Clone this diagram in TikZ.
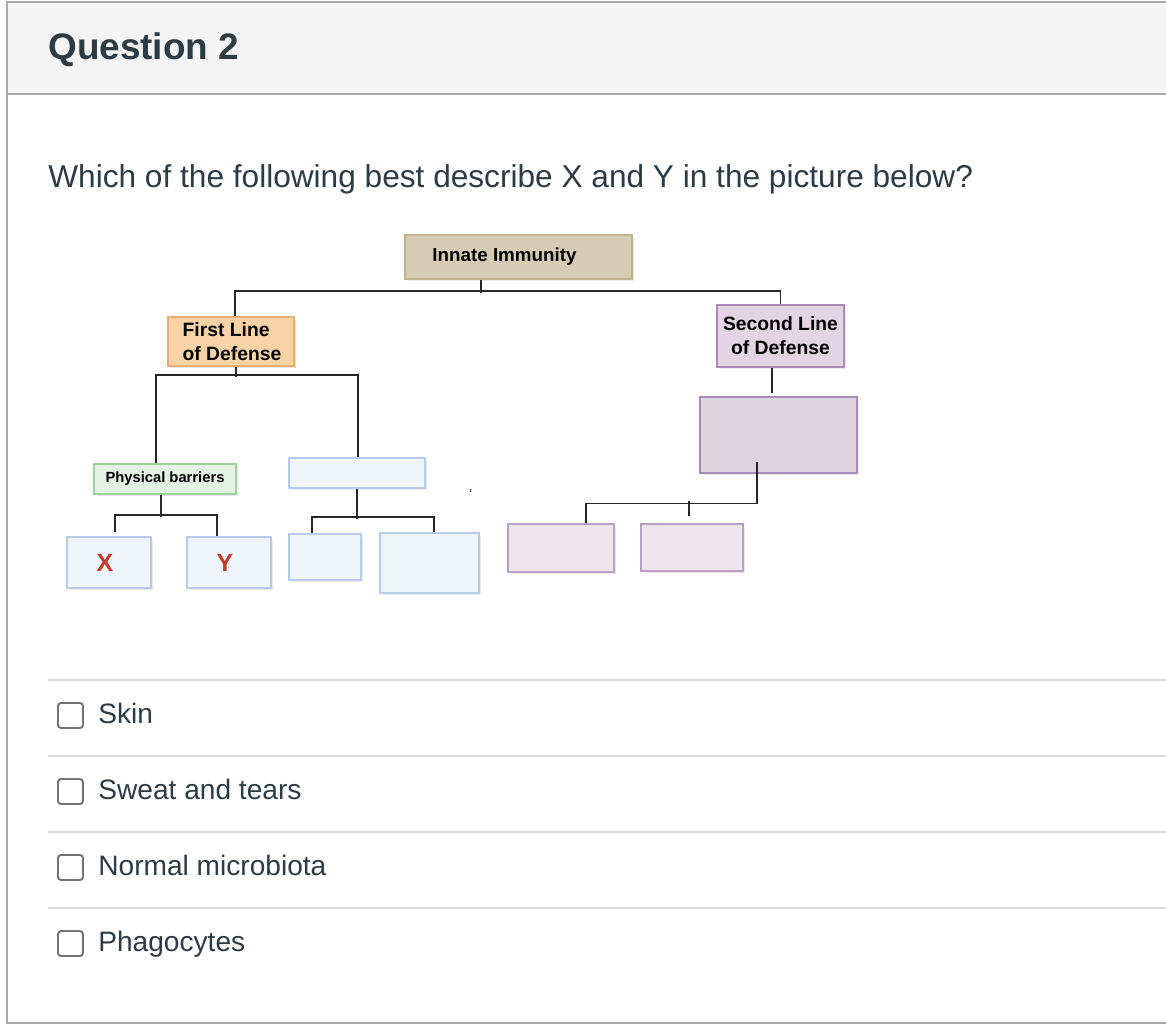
\documentclass[tikz,border=0pt]{standalone}
\usepackage{fontspec}
\setmainfont{Liberation Sans}
\usetikzlibrary{shadows}

\definecolor{ink}{HTML}{2D3B45}
\definecolor{framegray}{HTML}{A9A9A9}
\definecolor{headbg}{HTML}{F4F4F4}
\definecolor{sepgray}{HTML}{DDDDDD}
\definecolor{tanfill}{HTML}{D6CBB3}
\definecolor{tandraw}{HTML}{BFB28C}
\definecolor{orangefill}{HTML}{F9D3A5}
\definecolor{orangedraw}{HTML}{E9AE72}
\definecolor{lilacfill}{HTML}{E2D4E2}
\definecolor{lilacdraw}{HTML}{A88BB8}
\definecolor{greenfill}{HTML}{E3F2E3}
\definecolor{greendraw}{HTML}{9FCF9F}
\definecolor{bluefill}{HTML}{F0F5FB}
\definecolor{bluedraw}{HTML}{B8CBEA}
\definecolor{mauvefill}{HTML}{E0D3DF}
\definecolor{palefill}{HTML}{EDE5EC}
\definecolor{paledraw}{HTML}{B59FC3}
\definecolor{answerred}{HTML}{C23A2B}

\begin{document}
\begin{tikzpicture}
    [
        x=0.02cm, y=-0.02cm,
        box/.style={rectangle, draw, line width=1.1pt, inner sep=0pt, text centered, font=\bfseries,
            drop shadow={opacity=0.18, shadow xshift=0.05cm, shadow yshift=-0.05cm}},
        link/.style={draw=black!85, line width=0.8pt},
        frame/.style={draw=framegray, line width=1.2pt},
        sep/.style={draw=sepgray, line width=1pt},
        check/.style={draw=black!55, line width=1.1pt, rounded corners=1.8pt},
        label/.style={anchor=base west, inner sep=0pt, text=ink}
    ]
    \useasboundingbox (0,0) rectangle (1166,1030);

    % Frame
    \fill[headbg] (7,2) rectangle (1166,94);
    \draw[frame] (1166,2) -- (7,2) -- (7,1023) -- (1166,1023);
    \draw[frame] (7,94) -- (1166,94);

    % Texts
    \node[label, font=\fontsize{21}{25}\selectfont\bfseries] (title) at (48,60) {Question 2};
    \node[label, font=\fontsize{18}{22}\selectfont] (question) at (48,188) {Which of the following best describe X and Y in the picture below?};

    % Nodes
    \node[box, fill=tanfill, draw=tandraw, minimum width=4.54cm, minimum height=0.88cm, font=\fontsize{10.7}{13}\selectfont\bfseries] (innate) at (518.5,257) {\raisebox{-0.06cm}{Innate Immunity}\kern0.56cm};
    \node[box, fill=orangefill, draw=orangedraw, minimum width=2.52cm, minimum height=0.98cm, align=left, font=\fontsize{11}{13.6}\selectfont\bfseries] (first) at (231,341.5) {\kern0.04cm First Line\\\kern0.04cm of Defense};
    \node[box, fill=lilacfill, draw=lilacdraw, minimum width=2.54cm, minimum height=1.24cm, align=center, font=\fontsize{11}{13.6}\selectfont\bfseries] (second) at (780.5,336) {Second Line\\of Defense};
    \node[box, fill=greenfill, draw=greendraw, minimum width=2.84cm, minimum height=0.6cm, font=\fontsize{8.4}{10}\selectfont\bfseries] (physical) at (165,479) {Physical barriers};
    \node[box, fill=bluefill, draw=bluedraw, minimum width=2.72cm, minimum height=0.6cm] (otherbarrier) at (357,473) {};
    \node[box, fill=bluefill, draw=bluedraw, minimum width=1.68cm, minimum height=1.02cm, text=answerred, font=\fontsize{14.2}{16}\selectfont\bfseries] (xbox) at (109,562.5) {\raisebox{-0.08cm}{X}\kern0.16cm};
    \node[box, fill=bluefill, draw=bluedraw, minimum width=1.68cm, minimum height=1.02cm, text=answerred, font=\fontsize{14.2}{16}\selectfont\bfseries] (ybox) at (229,562.5) {\raisebox{-0.08cm}{Y}\kern0.16cm};
    \node[box, fill=bluefill, draw=bluedraw, minimum width=1.44cm, minimum height=0.92cm] (smallblue) at (325,557) {};
    \node[box, fill=bluefill, draw=bluedraw, minimum width=1.98cm, minimum height=1.2cm] (bigblue) at (429.5,563) {};
    \node[box, fill=mauvefill, draw=lilacdraw, line width=1.4pt, minimum width=3.14cm, minimum height=1.52cm] (mauve) at (778.5,435) {};
    \node[box, fill=palefill, draw=paledraw, minimum width=2.12cm, minimum height=0.96cm] (paleleft) at (561,548) {};
    \node[box, fill=palefill, draw=paledraw, minimum width=2.04cm, minimum height=0.94cm] (paleright) at (692,547.5) {};

    % Arrows
    \draw[link] ([xshift=-0.75cm]innate.south) -- ++(0,13);
    \draw[link] ([xshift=0.08cm]first.north) -- ++(0,-25) -| (second.north);
    \draw[link] ([xshift=0.1cm]first.south) -- ++(0,10);
    \draw[link] ([xshift=-0.18cm]physical.north) -- ++(0,-88) -| ([xshift=0.02cm]otherbarrier.north);
    \draw[link] ([xshift=-0.08cm]physical.south) -- ++(0,22);
    \draw[link, shorten <=0.08cm] ([xshift=0.12cm]xbox.north) -- ++(0,-21) -| ([xshift=-0.24cm]ybox.north);
    \draw[link] (otherbarrier.south) -- ++(0,30);
    \draw[link] ([xshift=-0.26cm]smallblue.north) -- ++(0,-16) -| ([xshift=0.09cm]bigblue.north);
    \draw[link] ([xshift=-0.17cm]second.south) -- ++(0,25);
    \draw[link] ([xshift=-0.43cm,yshift=0.24cm]mauve.south) -- ++(0,41) -| ([xshift=0.5cm]paleleft.north);
    \draw[link, shorten <=0.14cm] ([xshift=-0.06cm]paleright.north) -- ++(0,-22);
    \draw[link, line width=0.5pt] (471,489) -- (470.5,492);

    % Answers
    \draw[sep] (48,680) -- (1166,680);
    \draw[check] (58,703) rectangle (83,728);
    \node[label, font=\fontsize{16}{20}\selectfont] (skin) at (98,723) {Skin};
    \draw[sep] (48,756) -- (1166,756);
    \draw[check] (58,779) rectangle (83,804);
    \node[label, font=\fontsize{16}{20}\selectfont] (sweat) at (98,799) {Sweat and tears};
    \draw[sep] (48,832) -- (1166,832);
    \draw[check] (58,855) rectangle (83,880);
    \node[label, font=\fontsize{16}{20}\selectfont] (microbiota) at (98,875) {Normal microbiota};
    \draw[sep] (48,908) -- (1166,908);
    \draw[check] (58,931) rectangle (83,956);
    \node[label, font=\fontsize{16}{20}\selectfont] (phagocytes) at (98,951) {Phagocytes};
\end{tikzpicture}
\end{document}
